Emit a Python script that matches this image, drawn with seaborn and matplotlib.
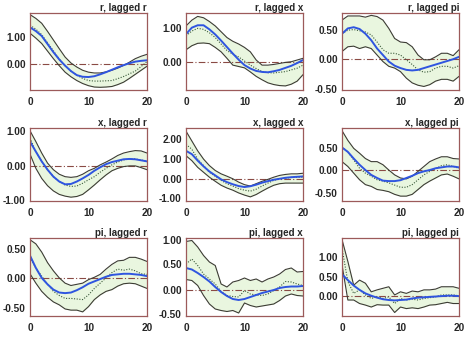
import numpy as np
import pandas as pd
import matplotlib
matplotlib.use("Agg")
import matplotlib.pyplot as plt
from matplotlib.ticker import FormatStrFormatter, MultipleLocator
import seaborn as sns

lags = list(range(21))

titles = ["r, lagged r", "r, lagged x", "r, lagged pi",
          "x, lagged r", "x, lagged x", "x, lagged pi",
          "pi, lagged r", "pi, lagged x", "pi, lagged pi"]

# upper / lower bands, sample median (dotted) and model (blue) for each pair
r_r_upper = [1.84, 1.70, 1.52, 1.22, 0.90, 0.58, 0.27, 0.05, -0.10, -0.22, -0.29, -0.32, -0.32, -0.28, -0.22, -0.14, -0.04, 0.08, 0.21, 0.30, 0.37]
r_r_lower = [1.15, 0.97, 0.77, 0.49, 0.21, -0.05, -0.29, -0.46, -0.60, -0.71, -0.79, -0.84, -0.85, -0.84, -0.82, -0.75, -0.66, -0.52, -0.37, -0.22, -0.07]
r_r_median = [1.45, 1.30, 1.10, 0.80, 0.50, 0.20, -0.05, -0.25, -0.40, -0.52, -0.60, -0.62, -0.62, -0.61, -0.60, -0.53, -0.45, -0.35, -0.25, -0.08, 0.10]
r_r_model = [1.37, 1.23, 1.05, 0.75, 0.45, 0.18, -0.05, -0.25, -0.40, -0.46, -0.47, -0.44, -0.37, -0.29, -0.20, -0.11, -0.03, 0.04, 0.10, 0.13, 0.15]

r_x_upper = [1.05, 1.22, 1.33, 1.29, 1.18, 1.05, 0.88, 0.71, 0.60, 0.52, 0.42, 0.29, 0.05, -0.10, -0.10, -0.08, -0.05, -0.02, 0.00, 0.05, 0.10]
r_x_lower = [0.35, 0.47, 0.54, 0.55, 0.53, 0.42, 0.29, 0.10, -0.10, -0.14, -0.18, -0.30, -0.43, -0.53, -0.62, -0.67, -0.70, -0.71, -0.66, -0.57, -0.38]
r_x_median = [0.76, 0.90, 0.98, 0.95, 0.85, 0.71, 0.52, 0.33, 0.22, 0.14, 0.02, -0.10, -0.20, -0.29, -0.32, -0.33, -0.31, -0.29, -0.24, -0.19, -0.10]
r_x_model = [0.81, 1.00, 1.07, 1.07, 0.95, 0.80, 0.62, 0.43, 0.24, 0.06, -0.10, -0.20, -0.27, -0.30, -0.31, -0.28, -0.24, -0.18, -0.12, -0.04, 0.05]

r_pi_upper = [0.66, 0.73, 0.73, 0.73, 0.71, 0.74, 0.72, 0.66, 0.52, 0.35, 0.29, 0.28, 0.21, 0.07, -0.01, -0.01, 0.04, 0.10, 0.10, 0.06, 0.16]
r_pi_lower = [0.13, 0.21, 0.22, 0.18, 0.21, 0.18, 0.07, -0.04, -0.12, -0.15, -0.21, -0.32, -0.40, -0.44, -0.46, -0.43, -0.37, -0.34, -0.34, -0.37, -0.29]
r_pi_median = [0.43, 0.49, 0.50, 0.48, 0.46, 0.41, 0.29, 0.16, 0.10, 0.10, 0.07, -0.01, -0.09, -0.18, -0.22, -0.21, -0.15, -0.12, -0.12, -0.15, -0.11]
r_pi_model = [0.43, 0.52, 0.54, 0.51, 0.43, 0.32, 0.18, 0.07, -0.04, -0.11, -0.15, -0.18, -0.19, -0.18, -0.15, -0.12, -0.09, -0.06, -0.03, 0.00, 0.04]

x_r_upper = [1.00, 0.69, 0.36, 0.07, -0.12, -0.25, -0.32, -0.34, -0.32, -0.25, -0.15, -0.08, 0.02, 0.10, 0.19, 0.29, 0.36, 0.40, 0.43, 0.42, 0.36]
x_r_lower = [0.33, -0.08, -0.37, -0.58, -0.73, -0.83, -0.88, -0.91, -0.89, -0.83, -0.70, -0.56, -0.41, -0.27, -0.15, -0.08, -0.03, -0.01, -0.01, -0.06, -0.12]
x_r_median = [0.79, 0.40, 0.12, -0.12, -0.32, -0.46, -0.56, -0.60, -0.59, -0.51, -0.41, -0.32, -0.19, -0.08, 0.02, 0.10, 0.16, 0.19, 0.19, 0.16, 0.12]
x_r_model = [0.69, 0.40, 0.12, -0.12, -0.32, -0.46, -0.54, -0.53, -0.46, -0.37, -0.27, -0.15, -0.05, 0.04, 0.10, 0.14, 0.18, 0.19, 0.18, 0.15, 0.12]

x_x_upper = [2.42, 1.92, 1.42, 1.00, 0.67, 0.42, 0.25, 0.13, 0.00, -0.17, -0.30, -0.37, -0.25, -0.13, -0.03, 0.08, 0.17, 0.22, 0.25, 0.25, 0.28]
x_x_lower = [1.17, 0.92, 0.58, 0.33, 0.08, -0.13, -0.33, -0.47, -0.58, -0.72, -0.83, -0.92, -0.80, -0.63, -0.47, -0.33, -0.25, -0.22, -0.22, -0.22, -0.22]
x_x_median = [1.75, 1.50, 1.00, 0.67, 0.33, 0.13, -0.08, -0.25, -0.37, -0.50, -0.58, -0.63, -0.53, -0.37, -0.22, -0.08, 0.00, 0.03, 0.07, 0.08, 0.08]
x_x_model = [1.42, 1.25, 0.92, 0.63, 0.37, 0.17, -0.03, -0.17, -0.28, -0.37, -0.42, -0.38, -0.30, -0.20, -0.12, -0.05, 0.00, 0.05, 0.08, 0.10, 0.12]

x_pi_upper = [0.90, 0.68, 0.50, 0.39, 0.27, 0.20, 0.20, 0.13, 0.01, -0.10, -0.17, -0.19, -0.13, -0.02, 0.09, 0.20, 0.26, 0.31, 0.31, 0.27, 0.26]
x_pi_lower = [0.20, 0.09, -0.06, -0.21, -0.32, -0.36, -0.43, -0.45, -0.48, -0.54, -0.58, -0.58, -0.54, -0.43, -0.32, -0.24, -0.17, -0.10, -0.08, -0.13, -0.19]
x_pi_median = [0.53, 0.42, 0.24, 0.05, -0.06, -0.13, -0.21, -0.24, -0.28, -0.33, -0.38, -0.38, -0.32, -0.21, -0.10, -0.02, 0.04, 0.11, 0.13, 0.09, 0.05]
x_pi_model = [0.52, 0.42, 0.27, 0.13, 0.01, -0.10, -0.17, -0.23, -0.24, -0.24, -0.22, -0.17, -0.12, -0.06, -0.02, 0.01, 0.05, 0.07, 0.09, 0.09, 0.07]

pi_r_upper = [0.66, 0.59, 0.45, 0.27, 0.13, 0.01, -0.08, -0.12, -0.10, -0.08, -0.02, 0.02, 0.07, 0.16, 0.24, 0.30, 0.31, 0.36, 0.36, 0.33, 0.29]
pi_r_lower = [0.08, -0.08, -0.22, -0.32, -0.40, -0.45, -0.52, -0.54, -0.54, -0.57, -0.48, -0.36, -0.28, -0.22, -0.19, -0.13, -0.09, -0.08, -0.09, -0.13, -0.17]
pi_r_median = [0.36, 0.18, 0.04, -0.10, -0.22, -0.29, -0.34, -0.34, -0.35, -0.36, -0.28, -0.17, -0.08, 0.01, 0.10, 0.16, 0.14, 0.16, 0.13, 0.08, 0.07]
pi_r_model = [0.39, 0.18, 0.01, -0.10, -0.19, -0.24, -0.25, -0.24, -0.20, -0.15, -0.09, -0.05, -0.01, 0.03, 0.06, 0.07, 0.08, 0.08, 0.07, 0.06, 0.04]

pi_x_upper = [0.96, 0.98, 0.85, 0.68, 0.55, 0.48, 0.11, 0.05, 0.15, 0.18, 0.23, 0.18, 0.21, 0.15, 0.21, 0.25, 0.31, 0.40, 0.43, 0.35, 0.36]
pi_x_lower = [0.20, 0.18, 0.08, -0.12, -0.29, -0.39, -0.42, -0.44, -0.42, -0.47, -0.27, -0.32, -0.35, -0.33, -0.31, -0.29, -0.22, -0.13, -0.09, -0.12, -0.13]
pi_x_median = [0.51, 0.61, 0.48, 0.31, 0.21, 0.11, -0.04, -0.12, -0.14, -0.15, -0.02, -0.09, -0.11, -0.12, -0.09, -0.02, 0.05, 0.16, 0.15, 0.11, 0.08]
pi_x_model = [0.43, 0.40, 0.33, 0.25, 0.16, 0.05, -0.05, -0.13, -0.19, -0.21, -0.19, -0.15, -0.11, -0.07, -0.04, -0.01, 0.03, 0.05, 0.06, 0.06, 0.07]

pi_pi_upper = [1.45, 0.89, 0.28, 0.41, 0.33, 0.11, 0.16, 0.20, 0.24, 0.03, 0.11, 0.07, 0.13, 0.11, 0.16, 0.16, 0.18, 0.24, 0.24, 0.24, 0.20]
pi_pi_lower = [0.80, -0.10, -0.10, -0.19, -0.23, -0.28, -0.22, -0.23, -0.23, -0.42, -0.28, -0.32, -0.30, -0.32, -0.28, -0.23, -0.22, -0.19, -0.16, -0.19, -0.19]
pi_pi_median = [1.23, 0.37, 0.07, 0.16, 0.03, -0.06, -0.02, -0.06, -0.02, -0.19, -0.06, -0.10, -0.08, -0.10, -0.06, -0.04, -0.02, 0.03, 0.03, 0.03, 0.01]
pi_pi_model = [0.56, 0.41, 0.27, 0.16, 0.07, 0.01, -0.04, -0.08, -0.10, -0.11, -0.10, -0.09, -0.06, -0.04, -0.03, -0.02, -0.01, 0.00, 0.01, 0.01, 0.00]

series = [
    (r_r_upper, r_r_lower, r_r_median, r_r_model),
    (r_x_upper, r_x_lower, r_x_median, r_x_model),
    (r_pi_upper, r_pi_lower, r_pi_median, r_pi_model),
    (x_r_upper, x_r_lower, x_r_median, x_r_model),
    (x_x_upper, x_x_lower, x_x_median, x_x_model),
    (x_pi_upper, x_pi_lower, x_pi_median, x_pi_model),
    (pi_r_upper, pi_r_lower, pi_r_median, pi_r_model),
    (pi_x_upper, pi_x_lower, pi_x_median, pi_x_model),
    (pi_pi_upper, pi_pi_lower, pi_pi_median, pi_pi_model),
]

yticks = [[0, 1], [0, 1], [-0.5, 0, 0.5],
          [-1, 0, 1], [-1, 0, 1, 2], [-0.5, 0, 0.5],
          [-0.5, 0, 0.5], [-0.5, 0, 0.5, 1], [0, 0.5, 1]]
ylims = [(-0.95, 1.9), (-0.83, 1.43), (-0.52, 0.78),
         (-1.02, 1.08), (-1.13, 2.58), (-0.69, 0.96),
         (-0.64, 0.69), (-0.53, 1.03), (-0.51, 1.49)]

sns.set_style("white")
plt.rcParams["font.family"] = ["Liberation Sans", "DejaVu Sans"]

W, H = 474, 337
fig = plt.figure(figsize=(W / 100, H / 100), dpi=100)

col_x = [(30, 147), (186, 303), (342, 459)]
row_y = [(13, 90), (128, 201), (238, 316)]

spine_col = "#9c5a5a"
band_col = "#3c3c34"
fill_col = "#e9f6df"
med_col = "#3a5a3a"
model_col = "#2f55e0"
zero_col = "#8a4a44"

for i, (title, (up, lo, med, mod)) in enumerate(zip(titles, series)):
    r, c = divmod(i, 3)
    x0, x1 = col_x[c]
    y0, y1 = row_y[r]
    ax = fig.add_axes([x0 / W, 1 - y1 / H, (x1 - x0) / W, (y1 - y0) / H])
    df = pd.DataFrame({"lag": lags, "upper": up, "lower": lo,
                       "median": med, "model": mod})
    ax.fill_between(df["lag"], df["lower"], df["upper"], color=fill_col, lw=0)
    ax.axhline(0, color=zero_col, lw=0.8, ls=(0, (6, 2, 1, 2)))
    sns.lineplot(data=df, x="lag", y="upper", ax=ax, color=band_col, lw=0.8)
    sns.lineplot(data=df, x="lag", y="lower", ax=ax, color=band_col, lw=0.8)
    sns.lineplot(data=df, x="lag", y="median", ax=ax, color=med_col, lw=0.8,
                 ls=(0, (1.0, 1.4)))
    sns.lineplot(data=df, x="lag", y="model", ax=ax, color=model_col, lw=1.4)
    ax.set_xlim(0, 20)
    ax.set_ylim(*ylims[i])
    ax.set_xticks([0, 10, 20])
    ax.xaxis.set_minor_locator(MultipleLocator(1))
    ax.set_yticks(yticks[i])
    ax.yaxis.set_major_formatter(FormatStrFormatter("%.2f"))
    ax.set_xlabel("")
    ax.set_ylabel("")
    for s in ax.spines.values():
        s.set_color(spine_col)
        s.set_linewidth(0.9)
    ax.tick_params(axis="both", which="major", direction="in", length=3,
                   width=0.7, color=spine_col, labelsize=7.2)
    ax.tick_params(axis="x", which="major", pad=5)
    ax.tick_params(axis="y", which="major", pad=3)
    ax.tick_params(axis="x", which="minor", direction="in", length=2,
                   width=0.6, color=spine_col)
    for lab in ax.get_xticklabels() + ax.get_yticklabels():
        lab.set_fontweight("bold")
    ax.set_title(title, loc="right", fontsize=7, fontweight="bold", pad=1.5)

fig.savefig("out.png", dpi=100)
